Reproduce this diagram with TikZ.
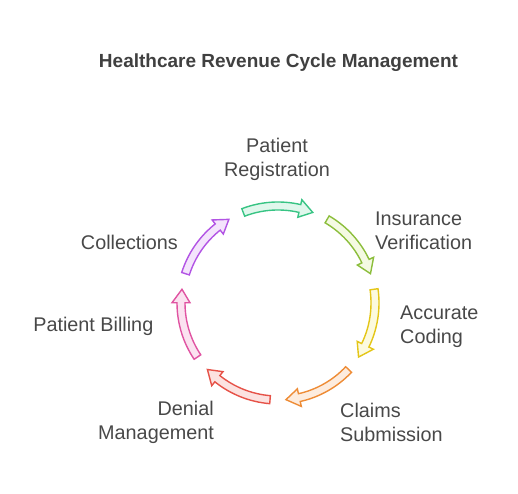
\documentclass[tikz,border=0pt]{standalone}
\usepackage{fontspec}
\setmainfont{Liberation Sans}
\usepackage{tikz}

\definecolor{labelgray}{RGB}{72,72,72}
\definecolor{titlegray}{RGB}{64,64,64}
\definecolor{regline}{RGB}{56,196,132}   \definecolor{regfill}{RGB}{224,247,236}
\definecolor{verline}{RGB}{140,190,60}   \definecolor{verfill}{RGB}{244,250,226}
\definecolor{codline}{RGB}{228,198,24}   \definecolor{codfill}{RGB}{252,250,222}
\definecolor{claline}{RGB}{238,140,54}   \definecolor{clafill}{RGB}{253,236,222}
\definecolor{denline}{RGB}{230,82,72}    \definecolor{denfill}{RGB}{252,226,224}
\definecolor{billine}{RGB}{224,84,162}   \definecolor{bilfill}{RGB}{251,226,240}
\definecolor{colline}{RGB}{178,84,228}   \definecolor{colfill}{RGB}{244,228,252}

% one curved arrow of the cycle: middle angle, line colour, fill colour
\newcommand{\cyclearrow}[3]{%
  \draw[#2, fill=#3, line width=1.4bp, line join=miter]
    (#1+21:101bp) arc[start angle=#1+21, end angle=#1-13, radius=101bp]
    -- (#1-13:106bp) -- (#1-21:97bp) -- (#1-13:88bp) -- (#1-13:93bp)
    arc[start angle=#1-13, end angle=#1+21, radius=93bp] -- cycle;}

\tikzset{
  steplabel/.style={text=labelgray, inner sep=0pt, font=\fontsize{19.8bp}{24bp}\selectfont}
}

\begin{document}
\begin{tikzpicture}[x=1bp, y=1bp]
		\useasboundingbox (0,0) rectangle (518,494);
		\node[text=titlegray, inner sep=0pt, font=\bfseries\fontsize{19bp}{22bp}\selectfont] (title) at (278.5, 431.5) {Healthcare Revenue Cycle Management};

		\begin{scope}[shift={(278,191)}]
		\cyclearrow{90}{regline}{regfill}
		\cyclearrow{38.57}{verline}{verfill}
		\cyclearrow{-12.86}{codline}{codfill}
		\cyclearrow{-64.29}{claline}{clafill}
		\cyclearrow{-115.71}{denline}{denfill}
		\cyclearrow{-167.14}{billine}{bilfill}
		\cyclearrow{-218.57}{colline}{colfill}
		\end{scope}

		\node[steplabel, align=center]          (registration) at (277, 335) {Patient\\Registration};
		\node[steplabel, align=left, anchor=west]  (verification) at (375, 263.5) {Insurance\\Verification};
		\node[steplabel, align=left, anchor=west]  (coding)       at (400, 167.5) {Accurate\\Coding};
		\node[steplabel, align=left, anchor=west]  (submission)   at (340, 71.5)  {Claims\\Submission};
		\node[steplabel, align=right, anchor=east] (denial)       at (214, 71.5)  {Denial\\Management};
		\node[steplabel, anchor=east]              (billing)      at (153.5, 167.5) {Patient Billing};
		\node[steplabel, anchor=east]              (collections)  at (178, 251.5) {Collections};
\end{tikzpicture}
\end{document}
